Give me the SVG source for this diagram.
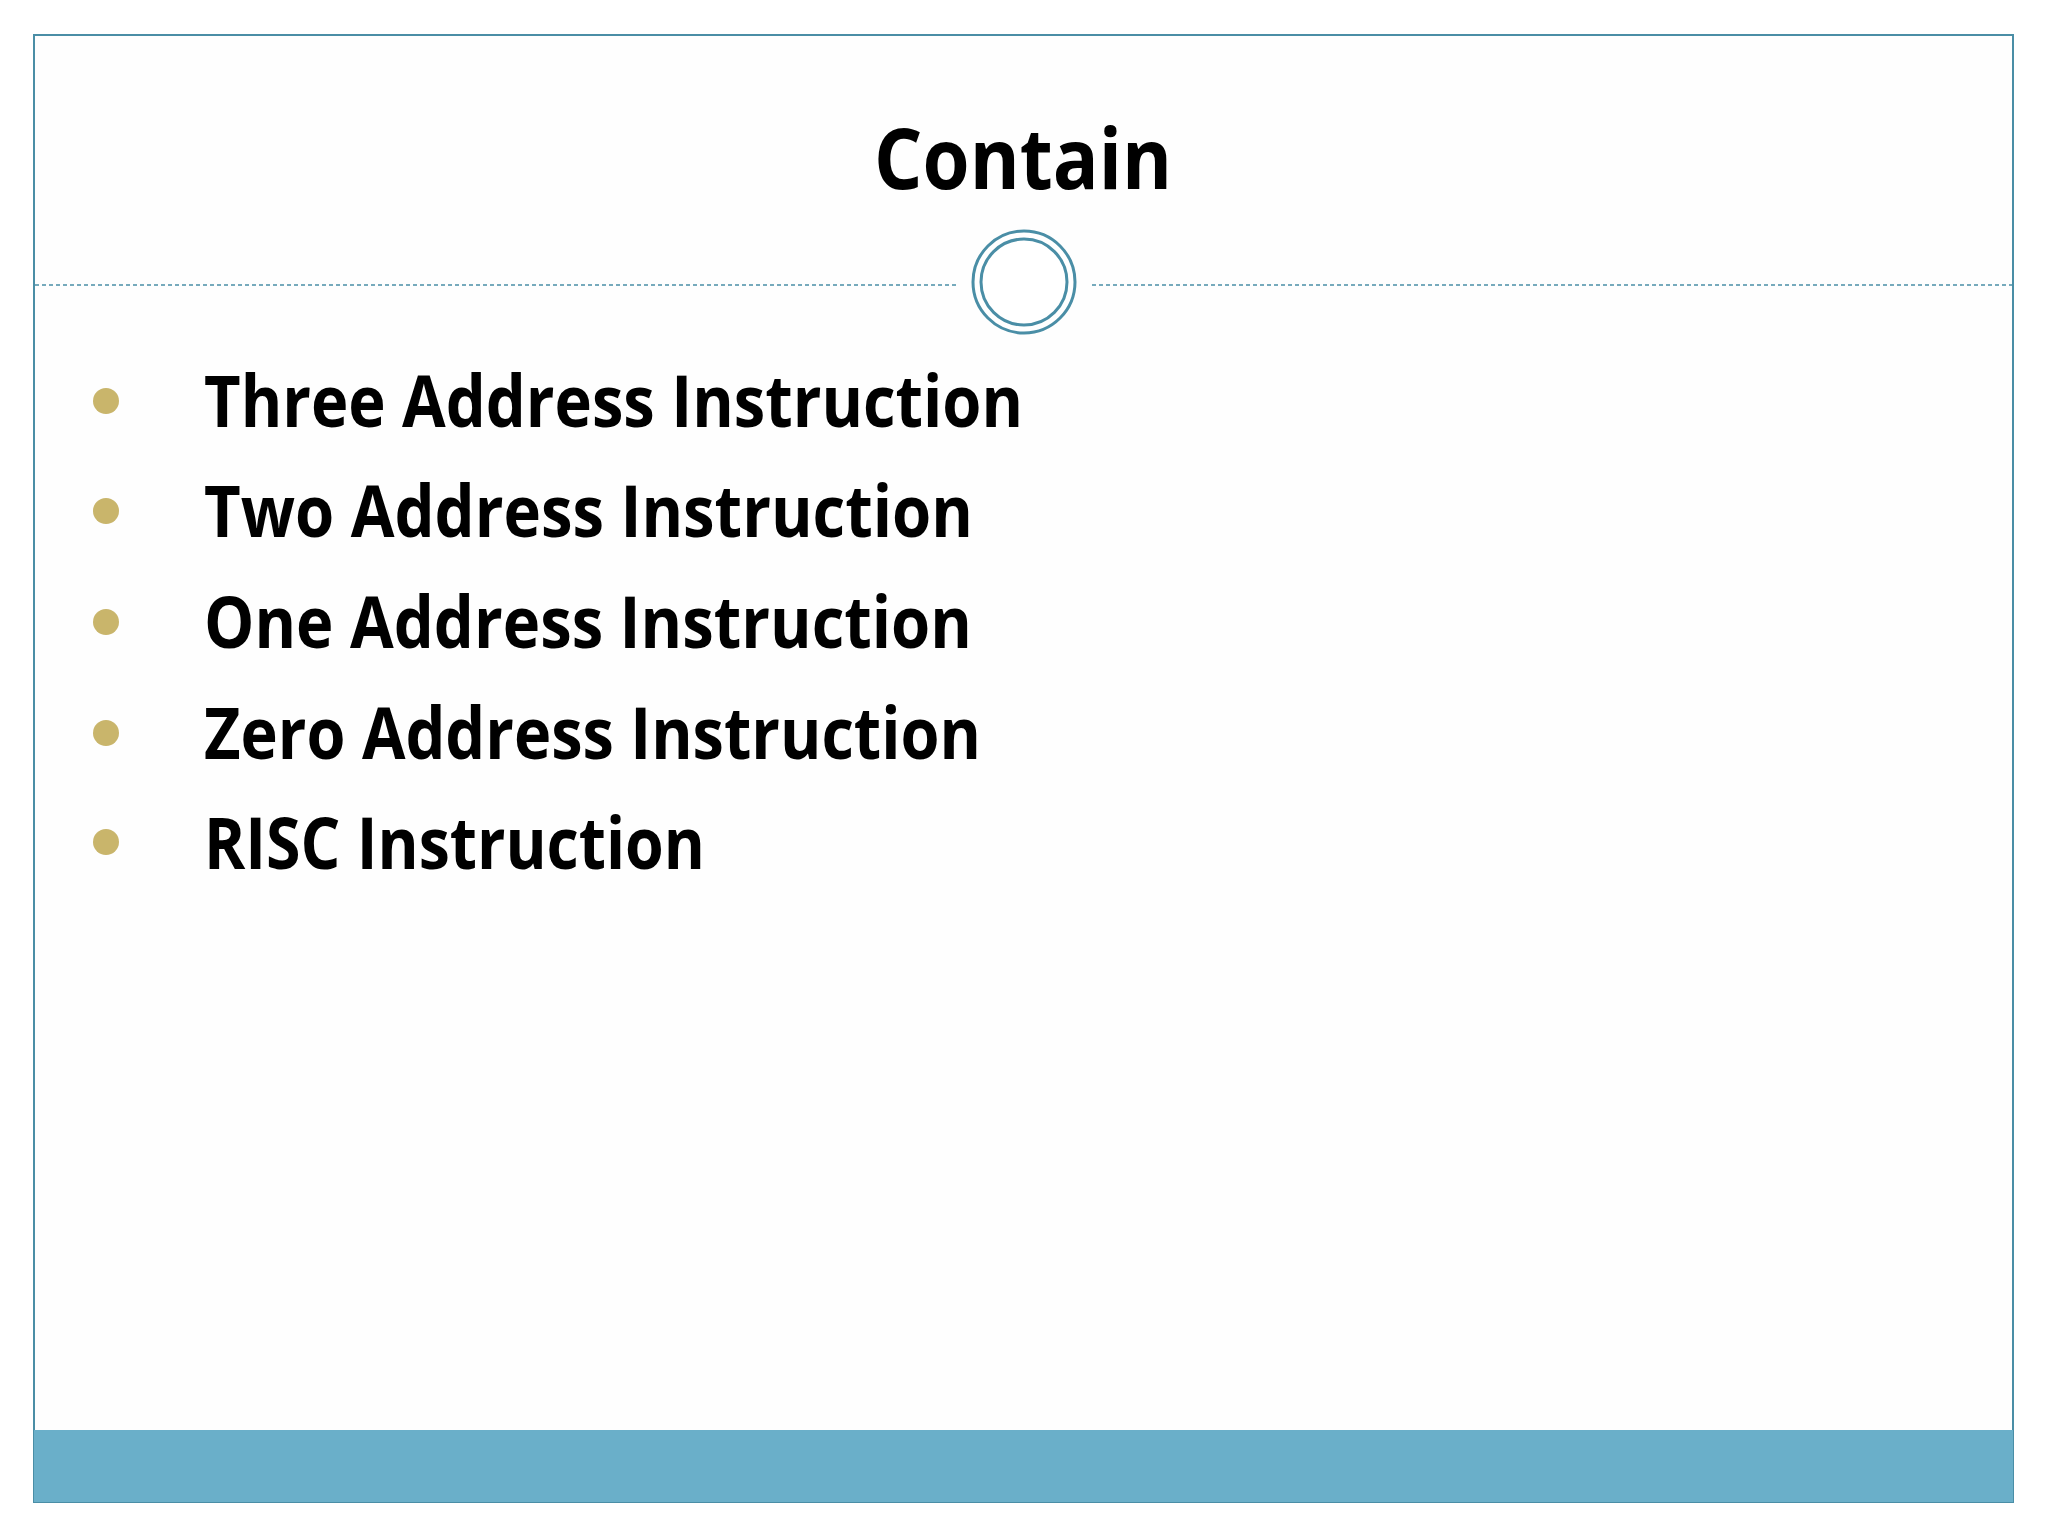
<svg xmlns="http://www.w3.org/2000/svg" width="2048" height="1536" viewBox="0 0 2048 1536">
<style>
.t{font-family:"Open Sans","Liberation Sans",sans-serif;font-weight:bold;fill:#000}
.b{fill:#c9b56b}
.d{stroke:#4a8ea6;stroke-width:1.5;stroke-dasharray:4 3;fill:none}
</style>
<rect width="2048" height="1536" fill="#fff"/>
<rect x="34" y="35" width="1979" height="1467" fill="#fefefe" stroke="#4a8ea6" stroke-width="2"/>
<rect x="34" y="1430" width="1979" height="72" fill="#6aafc9"/>
<text class="t" x="1023" y="189" font-size="84" text-anchor="middle" textLength="298" lengthAdjust="spacingAndGlyphs">Contain</text>
<line class="d" x1="35" y1="285" x2="956" y2="285"/>
<line class="d" x1="1092" y1="285" x2="2012" y2="285"/>
<circle cx="1024" cy="282" r="51" fill="#fff" stroke="#4a8ea6" stroke-width="3"/>
<circle cx="1024" cy="282" r="43" fill="#fff" stroke="#4a8ea6" stroke-width="3"/>
<g id="n1"><circle class="b" cx="106" cy="401" r="13"/><text class="t" x="204" y="427" font-size="72" textLength="819" lengthAdjust="spacingAndGlyphs">Three Address Instruction</text></g>
<g id="n2"><circle class="b" cx="106" cy="511" r="13"/><text class="t" x="204" y="537" font-size="72" textLength="769" lengthAdjust="spacingAndGlyphs">Two Address Instruction</text></g>
<g id="n3"><circle class="b" cx="106" cy="622" r="13"/><text class="t" x="204" y="648" font-size="72" textLength="768" lengthAdjust="spacingAndGlyphs">One Address Instruction</text></g>
<g id="n4"><circle class="b" cx="106" cy="733" r="13"/><text class="t" x="204" y="759" font-size="72" textLength="777" lengthAdjust="spacingAndGlyphs">Zero Address Instruction</text></g>
<g id="n5"><circle class="b" cx="106" cy="842" r="13"/><text class="t" x="204" y="869" font-size="72" textLength="501" lengthAdjust="spacingAndGlyphs">RISC Instruction</text></g>
<g id="connectors"/>
</svg>
